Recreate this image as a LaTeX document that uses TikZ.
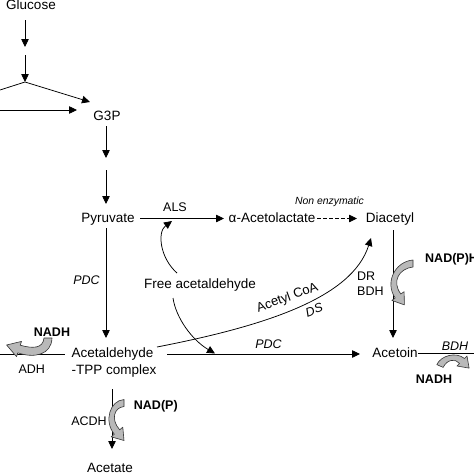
\documentclass[tikz,border=0pt]{standalone}
\usepackage{fontspec}
\setmainfont{Liberation Sans}
\usetikzlibrary{arrows.meta}
\begin{document}
\begin{tikzpicture}[x=1pt,y=-1pt,
  lbl/.style={font=\fontsize{13.5}{16}\selectfont, inner sep=0pt, anchor=mid},
  enz/.style={font=\fontsize{12.5}{15}\selectfont, inner sep=0pt, anchor=mid},
  enzi/.style={font=\fontsize{12.5}{15}\selectfont\itshape, inner sep=0pt, anchor=mid},
  cof/.style={font=\fontsize{12.5}{15}\selectfont\bfseries, inner sep=0pt, anchor=mid},
  arr/.style={line width=0.75pt, -{Triangle[length=8pt,width=7.5pt]}},
  ln/.style={line width=0.75pt},
  band/.style={fill=gray!55, draw=black!80, line width=0.6pt, line join=round}]
\fill[white] (0,0) rectangle (474,474);
\useasboundingbox (0,0) rectangle (474,474);

% metabolites
\node[lbl] (glu) at (31,7) {Glucose};
\node[lbl] (g3p) at (107,118) {G3P};
\node[lbl] (pyr) at (108,219.5) {Pyruvate};
\node[lbl] (alac) at (272,220) {α-Acetolactate};
\node[lbl] (diac) at (390,220) {Diacetyl};
\node[lbl] (free) at (200,285.5) {Free acetaldehyde};
\node[lbl, anchor=mid west] (acet) at (71.5,355) {Acetaldehyde};
\node[lbl, anchor=mid west] (acetb) at (71.5,371.5) {-TPP complex};
\node[lbl] (acetoin) at (395,354.5) {Acetoin};
\node[lbl] (acetate) at (110,470) {Acetate};

% enzymes and cofactors
\node[enz] (als) at (175,209) {ALS};
\node[font=\fontsize{10.4}{12}\selectfont\itshape, inner sep=0pt, anchor=mid] (nonenz) at (329.5,201.5) {Non enzymatic};
\node[enzi] (pdc1) at (86.5,281.5) {PDC};
\node[enzi] (pdc2) at (268.5,346) {PDC};
\node[enz, anchor=mid west] (dr) at (357,277.5) {DR};
\node[enz, anchor=mid west] (bdh1) at (357,293) {BDH};
\node[cof, anchor=mid west] (nadph) at (425,259.5) {NAD(P)H};
\node[font=\fontsize{13}{15}\selectfont, inner sep=0pt, rotate=20] (acoa) at (287.5,298) {Acetyl CoA};
\node[font=\fontsize{12.5}{15}\selectfont\itshape, inner sep=0pt, rotate=20] (ds) at (314,310) {DS};
\node[enzi] (bdh2) at (455,347.5) {BDH};
\node[cof] (nadh2) at (434,381) {NADH};
\node[cof] (nadh1) at (52,333.5) {NADH};
\node[enz] (adh) at (31.7,371) {ADH};
\node[enz] (acdh) at (89,422.5) {ACDH};
\node[cof] (nadp) at (155.8,406.5) {NAD(P)};

% coordinates for hidden / cut-off ends
\coordinate (a1) at (25,20);
\coordinate (a2) at (25,47);
\coordinate (a3) at (25,55);
\coordinate (j) at (25,82);
\coordinate (jl) at (0,90);
\coordinate (g3pin) at (90,102);
\coordinate (lin) at (0,110);
\coordinate (g3pin2) at (77,110);
\coordinate (b1) at (106,126);
\coordinate (b2) at (106,158);
\coordinate (b3) at (106,170);
\coordinate (b4) at (106,204);

% connectors
\draw[arr] (a1) -- (a2);
\draw[arr] (a3) -- (j);
\draw[ln] (j) -- (jl);
\draw[arr] (j) -- (g3pin);
\draw[arr] (lin) -- (g3pin2);
\draw[arr] (b1) -- (b2);
\draw[arr] (b3) -- (b4);
\draw[arr] (140,218.5) -- (224,218.5);
\draw[arr, dash pattern=on 3.5pt off 2.5pt] (317,218.5) -- (357,218.5);
\draw[arr] (393,230) -- (393,338);
\draw[arr] (106,228) -- (106,338);
\draw[arr] (167,354) -- (360,354);
\draw[ln] (418,353) -- (474,353);
\draw[ln] (0,354) -- (65,354);
\draw[arr] (112,389) -- (112,449);
\draw[arr] (157,347) .. controls (265,326) and (352,298) .. (371,238);
\draw[arr] (177,273) .. controls (160,258) and (157,232) .. (172,221);
\draw[arr] (173,298) .. controls (176,318) and (192,340) .. (215,353.5);

% cofactor arrows
\draw[band] (413,260) .. controls (395,261.5) and (384.5,282.5) .. (395.2,298)
  -- (391.9,300.4) -- (404.4,304.9) -- (404.1,291.7) -- (400.8,294)
  .. controls (391.5,281.5) and (399,268.5) .. (413,267) -- cycle;
\draw[band] (124,399.5) .. controls (110,400.5) and (103.5,421) .. (114.3,434.2)
  -- (111.2,436.8) -- (124,440.5) -- (122.8,427.2) -- (119.7,429.8)
  .. controls (110.5,419.5) and (114,407.5) .. (124,406.5) -- cycle;
\draw[band] (52,338) .. controls (51.5,355) and (34,358.5) .. (17.8,352.8)
  -- (16.5,356.6) -- (6.6,345) -- (21.5,341.4) -- (20.2,345.2)
  .. controls (32,348.5) and (43,349) .. (44,338) -- cycle;
\draw[band] (436.8,364.6) .. controls (441,355.5) and (456,351.5) .. (464.5,358.5)
  -- (467,356) -- (469.1,368.1) -- (457,366) -- (459.5,363.5)
  .. controls (456,358.5) and (447,359) .. (443.2,367.4) -- cycle;
\end{tikzpicture}
\end{document}
